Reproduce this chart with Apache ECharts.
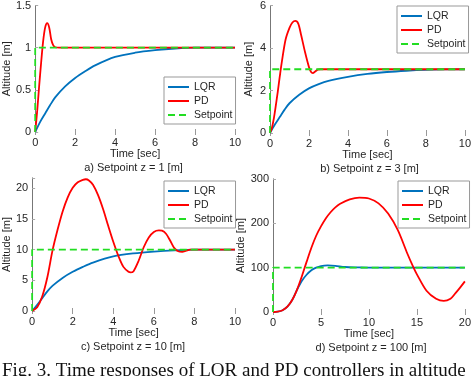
<!DOCTYPE html>
<html><head><meta charset="utf-8">
<script src="https://cdn.jsdelivr.net/npm/echarts@6/dist/echarts.min.js"></script>
<style>html,body{margin:0;padding:0;background:#fff}#c{width:474px;height:376px}</style>
</head><body><div id="c"></div><script>
// ---- Panel a: setpoint 1 m ----
const tLqrA = [0,0.25,0.5,0.75,1,1.5,2,2.5,3,4,5,6,7,8,9,10];
const lqrA  = [0,0.12,0.22,0.32,0.41,0.54,0.64,0.72,0.79,0.89,0.94,0.97,0.99,1.0,1.0,1.0];
const tPdA  = [0,0.1,0.2,0.3,0.4,0.5,0.6,0.7,0.8,0.9,1.0,1.2,10];
const pdA   = [0,0.25,0.55,0.83,1.08,1.24,1.29,1.24,1.1,1.03,1.005,1.0,1.0];
const tSetA = [0,0,10];
const setA  = [0,1,1];
// ---- Panel b: setpoint 3 m ----
const tLqrB = [0,0.25,0.5,0.75,1,1.5,2,2.5,3,4,5,6,7,8,9,10];
const lqrB  = [0,0.4,0.75,1.1,1.4,1.8,2.1,2.3,2.45,2.64,2.78,2.87,2.93,2.97,2.99,3.0];
const tPdB  = [0,0.1,0.2,0.3,0.4,0.5,0.6,0.8,1.0,1.15,1.3,1.45,1.6,1.8,2.0,2.1,2.2,2.3,2.45,2.6,10];
const pdB   = [0,0.25,0.7,1.3,1.95,2.65,3.3,4.4,4.95,5.2,5.28,5.15,4.6,3.8,3.1,2.88,2.82,2.88,2.98,3.0,3.0];
const tSetB = [0,0,10];
const setB  = [0,3,3];
// ---- Panel c: setpoint 10 m ----
const tLqrC = [0,0.25,0.5,0.75,1,1.5,2,2.5,3,4,5,6,7,8,9,10];
const lqrC  = [0,1.0,2.1,3.2,4.1,5.4,6.4,7.2,7.9,8.9,9.4,9.7,9.9,10,10,10];
const tPdC  = [0,0.25,0.5,0.75,1.0,1.25,1.5,1.75,2.0,2.25,2.5,2.65,2.8,3.0,3.25,3.5,3.75,4.0,4.25,4.5,4.75,4.85,5.0,5.25,5.5,5.75,6.0,6.25,6.4,6.6,6.8,7.0,7.2,7.4,7.6,7.8,10];
const pdC   = [0,0.6,2.4,5.5,9.8,13.2,16.2,18.5,20.1,21.0,21.4,21.5,21.3,20.6,18.9,16.6,13.9,11.3,9.0,7.2,6.4,6.3,6.5,8.2,10.4,12.0,12.9,13.15,13.1,12.6,11.5,10.3,9.75,9.65,9.85,10.0,10.0];
const tSetC = [0,0,10];
const setC  = [0,10,10];
// ---- Panel d: setpoint 100 m ----
const tLqrD = [0,0.5,1,1.5,2,2.5,3,3.5,4,4.5,5,5.7,6.5,7.5,9,10,20];
const lqrD  = [0,1,4,12,27,50,70,84,94,100,103.5,105,104,101.5,100.5,100,100];
const tPdD  = [0,0.5,1,1.5,2,2.5,3,3.5,4,4.5,5,5.5,6,6.5,7,8,9,10,11,12,13,14,14.65,15,16,17,17.8,18.5,19,19.5,20];
const pdD   = [0,1,4,12,27,50,80,113,145,172,193,211,225,236,244,254,258,256,245,222,185,132,100,85,48,30,25,30,42,55,69];
const tSetD = [0,0,20];
const setD  = [0,100,100];

// ---- axis settings ----
const xMax = [10,10,10,20];
const xInt = [2,2,2,5];
const yMax = [1.5,6,21.7,300];
const yInt = [0.5,2,5,100];
const captions = ['a) Setpoint z = 1 [m]','b) Setpoint z = 3 [m]','c) Setpoint z = 10 [m]','d) Setpoint z = 100 [m]'];
const figCaption = 'Fig. 3. Time responses of LQR and PD controllers in altitude';

const grids = [
  {left:32, top:5,   width:203, height:127},
  {left:270,top:4,   width:199, height:129},
  {left:31, top:178, width:204, height:133},
  {left:273,top:179, width:196, height:133}
];
const yNameGap = [19.5,15.5,18.5,22.5];
const legendPos = [[164,77],[397,6],[164,181],[398,181]];

const FONT = '"Liberation Sans", Arial, Helvetica, sans-serif';
const TXT = '#262626';
const C_LQR = '#0072BD', C_PD = '#FF0000', C_SET = '#22dd22';

function pairs(t,v){ return t.map((x,i)=>[x,v[i]]); }
const panels = [
  [tLqrA,lqrA,tPdA,pdA,tSetA,setA],
  [tLqrB,lqrB,tPdB,pdB,tSetB,setB],
  [tLqrC,lqrC,tPdC,pdC,tSetC,setC],
  [tLqrD,lqrD,tPdD,pdD,tSetD,setD]
];

const xAxis = [], yAxis = [], series = [], legend = [], graphic = [];
grids.forEach((g,i)=>{
  xAxis.push({
    type:'value', gridIndex:i, min:0, max:xMax[i], interval:xInt[i],
    name:'Time [sec]', nameLocation:'middle', nameGap:16,
    nameTextStyle:{fontFamily:FONT,fontSize:11,color:TXT},
    axisLine:{show:false},
    axisTick:{show:true,inside:true,length:3,lineStyle:{color:'#999'}},
    axisLabel:{fontFamily:FONT,fontSize:11,color:TXT,margin:5},
    splitLine:{show:false}
  });
  yAxis.push({
    type:'value', gridIndex:i, min:0, max:yMax[i], interval:yInt[i],
    name:'Altitude [m]', nameLocation:'middle', nameGap:yNameGap[i], nameRotate:90,
    nameTextStyle:{fontFamily:FONT,fontSize:11,color:TXT},
    axisLine:{show:true,lineStyle:{color:'#aaa'}},
    axisTick:{show:true,inside:true,length:3,lineStyle:{color:'#aaa'}},
    axisLabel:{fontFamily:FONT,fontSize:11,color:TXT,margin:4,
      formatter:(v)=>{ const r=v/yInt[i]; return Math.abs(r-Math.round(r))<1e-6 ? String(v) : ''; }},
    splitLine:{show:false}
  });
  const p = panels[i];
  series.push({name:'LQR',type:'line',xAxisIndex:i,yAxisIndex:i,data:pairs(p[0],p[1]),
    showSymbol:false,symbol:'none',smooth:0.3,lineStyle:{color:C_LQR,width:1.8},itemStyle:{color:C_LQR},z:2});
  series.push({name:'PD',type:'line',xAxisIndex:i,yAxisIndex:i,data:pairs(p[2],p[3]),
    showSymbol:false,symbol:'none',smooth:0.3,lineStyle:{color:C_PD,width:1.8},itemStyle:{color:C_PD},z:3});
  series.push({name:'Setpoint',type:'line',xAxisIndex:i,yAxisIndex:i,data:pairs(p[4],p[5]),
    showSymbol:false,symbol:'none',lineStyle:{color:C_SET,width:1.8,type:[7,4]},itemStyle:{color:C_SET},z:4});
  legend.push({
    orient:'vertical', left:legendPos[i][0], top:legendPos[i][1],
    data:['LQR','PD','Setpoint'], itemWidth:21, itemHeight:14, itemGap:0,
    padding:[3,3,2,3], borderColor:'#999', borderWidth:1, backgroundColor:'#fff',
    itemStyle:{opacity:0},
    lineStyle:{width:2},
    textStyle:{fontFamily:FONT,fontSize:10.5,color:TXT,lineHeight:14},
    selectedMode:false
  });
  graphic.push({type:'text', x:g.left+g.width/2, y:g.top+g.height+36,
    style:{text:captions[i], align:'center', verticalAlign:'middle', font:'11px '+FONT, fill:TXT}});
});
// top tick marks of the box
grids.forEach((g,i)=>{
  xAxis.push({type:'value',gridIndex:i,position:'top',min:0,max:xMax[i],interval:xInt[i],
    axisLine:{show:false},axisTick:{show:true,inside:true,length:3,lineStyle:{color:'#999'}},
    axisLabel:{show:false},splitLine:{show:false}});
});
// right-hand box edges
grids.forEach((g,i)=>{
  yAxis.push({type:'value',gridIndex:i,position:'right',min:0,max:1,
    axisLine:{show:true,lineStyle:{color:'#777'}},axisTick:{show:false},axisLabel:{show:false},splitLine:{show:false}});
});
graphic.push({type:'text', x:2, y:362,
  style:{text:figCaption, align:'left', verticalAlign:'top', font:'19px "Liberation Serif", "Times New Roman", serif', fill:'#111'}});

const chart = echarts.init(document.getElementById('c'), null, {renderer:'canvas'});
chart.setOption({
  animation:false, backgroundColor:'#fff',
  grid:grids, xAxis, yAxis, series, legend, graphic
});
</script></body></html>
